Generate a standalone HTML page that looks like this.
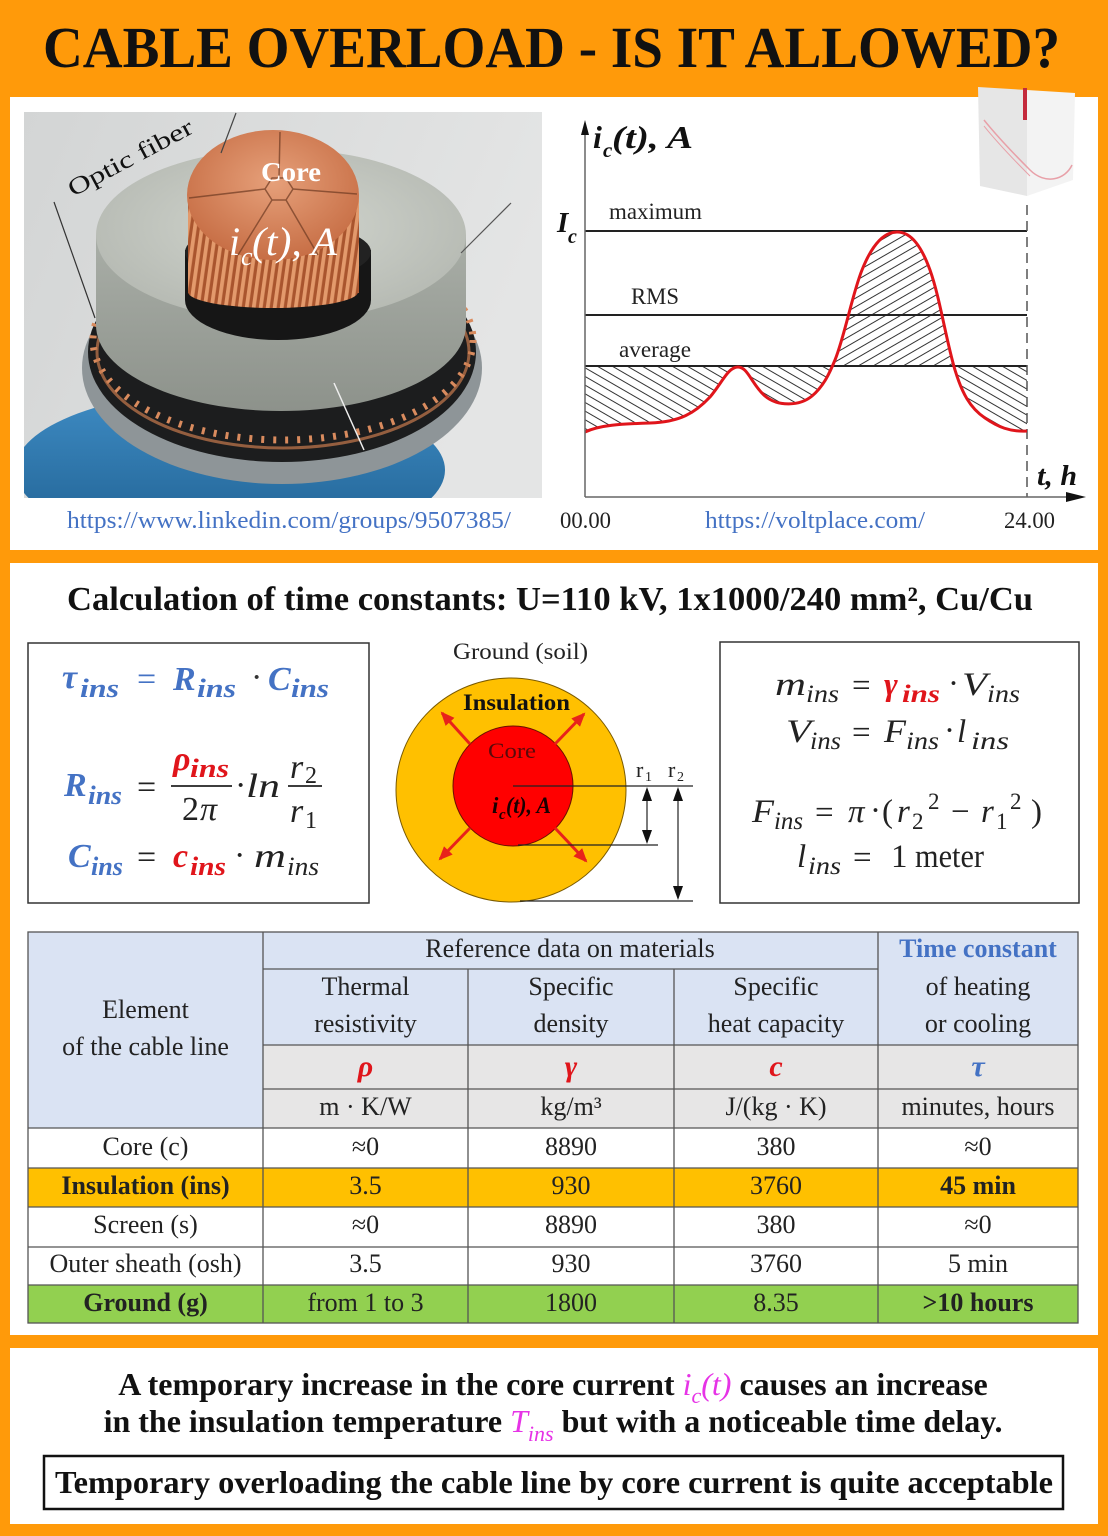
<!DOCTYPE html>
<html><head><meta charset="utf-8">
<style>html,body{margin:0;padding:0;background:#FF9A0A}svg{display:block}</style>
</head><body>
<svg width="1108" height="1536" viewBox="0 0 1108 1536" xmlns="http://www.w3.org/2000/svg" font-family="'Liberation Serif', 'DejaVu Serif', serif">
<defs>
  <pattern id="hb" patternUnits="userSpaceOnUse" width="10" height="7.5" patternTransform="rotate(30)"><line x1="-1" y1="3.5" x2="11" y2="3.5" stroke="#333" stroke-width="1"/></pattern>
  <pattern id="hf" patternUnits="userSpaceOnUse" width="10" height="7.5" patternTransform="rotate(-30)"><line x1="-1" y1="3.5" x2="11" y2="3.5" stroke="#333" stroke-width="1"/></pattern>
  <pattern id="str" patternUnits="userSpaceOnUse" width="7" height="30" patternTransform="skewX(-8)"><rect width="7" height="30" fill="#a9552e"/><rect x="1" width="3.8" height="30" fill="#e39a6c"/></pattern>
  <clipPath id="ph"><rect x="24" y="112" width="518" height="386"/></clipPath>
  <clipPath id="below"><rect x="585" y="366" width="443" height="100"/></clipPath>
  <clipPath id="above"><rect x="585" y="200" width="443" height="166"/></clipPath>
  <linearGradient id="bg" x1="0" y1="0" x2="1" y2="0.3"><stop offset="0" stop-color="#d3d5d5"/><stop offset="1" stop-color="#e4e5e5"/></linearGradient>
  <linearGradient id="blue" x1="0" y1="0" x2="0" y2="1"><stop offset="0" stop-color="#3f8cc4"/><stop offset="1" stop-color="#1e5f90"/></linearGradient>
  <radialGradient id="disk" cx="0.5" cy="0.45" r="0.6"><stop offset="0" stop-color="#d2d6cf"/><stop offset="1" stop-color="#b4b8b1"/></radialGradient>
  <linearGradient id="side" x1="0" y1="0" x2="0" y2="1"><stop offset="0" stop-color="#a9aea7"/><stop offset="1" stop-color="#8d928b"/></linearGradient>
  <radialGradient id="cu" cx="0.5" cy="0.4" r="0.6"><stop offset="0" stop-color="#e6a07a"/><stop offset="1" stop-color="#c76e45"/></radialGradient>
  <marker id="ar" markerWidth="14" markerHeight="12" refX="12" refY="6" orient="auto" markerUnits="userSpaceOnUse"><path d="M0,0 L14,6 L0,12 z" fill="#E8221B"/></marker>
</defs>

<!-- background + panels -->
<rect x="0" y="0" width="1108" height="1536" fill="#FF9A0A"/>
<rect x="10" y="97" width="1088" height="453" fill="#fff"/>
<rect x="10" y="563" width="1088" height="772" fill="#fff"/>
<rect x="10" y="1348" width="1088" height="176" fill="#fff"/>

<!-- title -->
<text x="43" y="67" font-size="58" font-weight="bold" fill="#111" textLength="1017" lengthAdjust="spacingAndGlyphs">CABLE OVERLOAD - IS IT ALLOWED?</text>

<!-- photo -->
<g clip-path="url(#ph)">
  <rect x="24" y="112" width="518" height="386" fill="url(#bg)"/>
  <ellipse cx="230" cy="470" rx="215" ry="80" fill="url(#blue)"/>
  <ellipse cx="282" cy="368" rx="200" ry="116" fill="#8e9598"/>
  <ellipse cx="282" cy="352" rx="194" ry="110" fill="#1c1d1e"/>
  <ellipse cx="283" cy="340" rx="190" ry="100" fill="none" stroke="#d98b5e" stroke-width="7" stroke-dasharray="3 9"/>
  <ellipse cx="283" cy="352" rx="186" ry="96" fill="none" stroke="#c87a4d" stroke-width="3" opacity="0.7"/>
  <path d="M96,235 L96,325 A185,86 0 0,0 466,325 L466,235 Z" fill="url(#side)"/>
  <ellipse cx="281" cy="235" rx="185" ry="86" fill="url(#disk)"/>
  <ellipse cx="278" cy="300" rx="93" ry="40" fill="#161616"/>
  <rect x="185" y="250" width="186" height="50" fill="#161616"/>
  <ellipse cx="278" cy="252" rx="93" ry="30" fill="#222"/>
  <rect x="188" y="195" width="171" height="98" fill="url(#str)"/>
  <ellipse cx="273" cy="292" rx="85" ry="16" fill="url(#str)"/>
  <ellipse cx="273" cy="195" rx="86" ry="65" fill="url(#cu)"/>
  <g stroke="#6e3a22" stroke-width="1.5" fill="none" opacity="0.7">
    <polygon points="272,178 286,178 293,189 286,200 272,200 265,189"/>
    <line x1="265" y1="189" x2="189" y2="198"/>
    <line x1="293" y1="189" x2="357" y2="194"/>
    <line x1="279" y1="178" x2="280" y2="132"/>
    <line x1="272" y1="200" x2="238" y2="255"/>
    <line x1="286" y1="200" x2="318" y2="255"/>
  </g>
  <line x1="54" y1="202" x2="95" y2="318" stroke="#333" stroke-width="1.2"/>
  <line x1="236" y1="113" x2="221" y2="153" stroke="#444" stroke-width="1.2"/>
  <line x1="511" y1="203" x2="461" y2="253" stroke="#555" stroke-width="1.2"/>
  <line x1="334" y1="383" x2="364" y2="450" stroke="#eee" stroke-width="1.5"/>
  <text transform="translate(73,197) rotate(-28)" font-size="24" fill="#111" textLength="138" lengthAdjust="spacingAndGlyphs">Optic fiber</text>
  <text x="261" y="181" font-size="27" font-weight="bold" fill="#fff" textLength="60" lengthAdjust="spacingAndGlyphs">Core</text>
  <text font-style="italic" fill="#fff" font-size="40"><tspan x="229" y="255">i</tspan><tspan x="241" y="265" font-size="26">c</tspan><tspan x="252" y="255" textLength="85" lengthAdjust="spacingAndGlyphs">(t), A</tspan></text>
</g>
<text x="67" y="528" font-size="24" fill="#4472C4" textLength="444" lengthAdjust="spacingAndGlyphs">https://www.linkedin.com/groups/9507385/</text>

<!-- book -->
<polygon points="978,87 1027,90 1027,196 980,186" fill="#e6e6e6"/>
<polygon points="1027,90 1075,93 1073,180 1027,196" fill="#f3f3f3"/>
<rect x="1023" y="88" width="4" height="32" fill="#c42a3c"/>
<path d="M984,120 C1000,140 1020,160 1030,170 C1045,185 1065,180 1072,165" fill="none" stroke="#e8a0a8" stroke-width="1.5"/>
<path d="M984,126 C1000,146 1020,166 1030,176" fill="none" stroke="#e8a0a8" stroke-width="1"/>

<!-- chart -->
<g>
  <path d="M585,432 C600,425 620,424 650,423 C680,422 695,413 710,397 C722,383 728,367 738,367 C748,367 752,385 765,396 C778,407 800,406 812,396 C824,386 830,372 835,360 C845,335 852,295 862,270 C872,245 884,232 897,232 C912,232 922,248 930,270 C940,298 946,340 955,370 C962,393 970,408 985,418 C998,427 1010,432 1027,431 L1027,366 L585,366 Z" fill="url(#hb)" clip-path="url(#below)"/>
  <path d="M585,432 C600,425 620,424 650,423 C680,422 695,413 710,397 C722,383 728,367 738,367 C748,367 752,385 765,396 C778,407 800,406 812,396 C824,386 830,372 835,360 C845,335 852,295 862,270 C872,245 884,232 897,232 C912,232 922,248 930,270 C940,298 946,340 955,370 C962,393 970,408 985,418 C998,427 1010,432 1027,431 L1027,366 L585,366 Z" fill="url(#hf)" clip-path="url(#above)"/>
  <line x1="585" y1="231" x2="1027" y2="231" stroke="#222" stroke-width="2"/>
  <line x1="585" y1="315" x2="1027" y2="315" stroke="#222" stroke-width="2"/>
  <line x1="585" y1="366" x2="1027" y2="366" stroke="#222" stroke-width="2"/>
  <line x1="1027" y1="205" x2="1027" y2="497" stroke="#555" stroke-width="1.5" stroke-dasharray="10 6"/>
  <path d="M585,432 C600,425 620,424 650,423 C680,422 695,413 710,397 C722,383 728,367 738,367 C748,367 752,385 765,396 C778,407 800,406 812,396 C824,386 830,372 835,360 C845,335 852,295 862,270 C872,245 884,232 897,232 C912,232 922,248 930,270 C940,298 946,340 955,370 C962,393 970,408 985,418 C998,427 1010,432 1027,431" fill="none" stroke="#E0151B" stroke-width="3"/>
  <line x1="585" y1="130" x2="585" y2="497" stroke="#666" stroke-width="1.5"/>
  <line x1="585" y1="497" x2="1070" y2="497" stroke="#666" stroke-width="1.5"/>
  <polygon points="585,120 581,135 589,135" fill="#111"/>
  <polygon points="1086,497 1066,492 1066,502" fill="#111"/>
  <text font-weight="bold" font-style="italic" font-size="32" fill="#111"><tspan x="593" y="148">i</tspan><tspan x="603" y="157" font-size="21">c</tspan><tspan x="612" y="148" textLength="81" lengthAdjust="spacingAndGlyphs">(t), A</tspan></text>
  <text font-weight="bold" font-style="italic" font-size="29" fill="#111"><tspan x="557" y="232">I</tspan><tspan x="568" y="243" font-size="20">c</tspan></text>
  <text x="609" y="219" font-size="23" fill="#222" textLength="93" lengthAdjust="spacingAndGlyphs">maximum</text>
  <text x="631" y="304" font-size="23" fill="#222" textLength="48" lengthAdjust="spacingAndGlyphs">RMS</text>
  <text x="619" y="357" font-size="23" fill="#222" textLength="72" lengthAdjust="spacingAndGlyphs">average</text>
  <text x="1037" y="485" font-size="29" font-weight="bold" font-style="italic" fill="#111" textLength="40" lengthAdjust="spacingAndGlyphs">t, h</text>
  <text x="560" y="528" font-size="23" fill="#222" textLength="51" lengthAdjust="spacingAndGlyphs">00.00</text>
  <text x="705" y="528" font-size="24" fill="#4472C4" textLength="220" lengthAdjust="spacingAndGlyphs">https://voltplace.com/</text>
  <text x="1004" y="528" font-size="23" fill="#222" textLength="51" lengthAdjust="spacingAndGlyphs">24.00</text>
</g>

<!-- panel 2 header -->
<text x="67" y="610" font-size="34" font-weight="bold" fill="#111" textLength="966" lengthAdjust="spacingAndGlyphs">Calculation of time constants: U=110 kV, 1x1000/240 mm², Cu/Cu</text>

<!-- left formula box -->
<rect x="28" y="643" width="341" height="260" fill="#fff" stroke="#333" stroke-width="1.5"/>
<text font-style="italic" font-weight="bold" fill="#4472C4" font-size="34">
  <tspan x="62" y="688">τ</tspan><tspan x="80" y="697" font-size="26" textLength="39" lengthAdjust="spacingAndGlyphs">ins</tspan>
  <tspan x="137" y="690" font-style="normal" font-weight="normal">=</tspan>
  <tspan x="173" y="690">R</tspan><tspan x="197" y="697" font-size="26" textLength="39" lengthAdjust="spacingAndGlyphs">ins</tspan>
  <tspan x="251" y="688" font-style="normal" font-weight="normal" fill="#333">·</tspan>
  <tspan x="268" y="690">C</tspan><tspan x="291" y="697" font-size="26" textLength="38" lengthAdjust="spacingAndGlyphs">ins</tspan>
</text>
<text font-style="italic" font-size="34" fill="#222">
  <tspan x="64" y="796" font-weight="bold" fill="#4472C4">R</tspan><tspan x="88" y="804" font-size="26" font-weight="bold" fill="#4472C4" textLength="34" lengthAdjust="spacingAndGlyphs">ins</tspan>
  <tspan x="137" y="798" font-style="normal">=</tspan>
  <tspan x="173" y="770" font-weight="bold" fill="#E0151B">ρ</tspan><tspan x="190" y="777" font-size="26" font-weight="bold" fill="#E0151B" textLength="39" lengthAdjust="spacingAndGlyphs">ins</tspan>
  <tspan x="182" y="820" font-style="normal">2</tspan><tspan x="200" y="820">π</tspan>
  <tspan x="235" y="796" font-style="normal">·</tspan>
  <tspan x="246" y="797" textLength="34" lengthAdjust="spacingAndGlyphs">ln</tspan>
  <tspan x="290" y="778">r</tspan><tspan x="305" y="783" font-size="24" font-style="normal">2</tspan>
  <tspan x="290" y="822">r</tspan><tspan x="305" y="828" font-size="24" font-style="normal">1</tspan>
</text>
<line x1="171" y1="786" x2="232" y2="786" stroke="#222" stroke-width="1.8"/>
<line x1="288" y1="786" x2="322" y2="786" stroke="#222" stroke-width="1.8"/>
<text font-style="italic" font-size="34" fill="#222">
  <tspan x="68" y="867" font-weight="bold" fill="#4472C4">C</tspan><tspan x="91" y="875" font-size="26" font-weight="bold" fill="#4472C4" textLength="32" lengthAdjust="spacingAndGlyphs">ins</tspan>
  <tspan x="137" y="868" font-style="normal">=</tspan>
  <tspan x="173" y="867" font-weight="bold" fill="#E0151B">c</tspan><tspan x="190" y="875" font-size="26" font-weight="bold" fill="#E0151B" textLength="36" lengthAdjust="spacingAndGlyphs">ins</tspan>
  <tspan x="234" y="866" font-style="normal">·</tspan>
  <tspan x="254" y="867" textLength="32" lengthAdjust="spacingAndGlyphs">m</tspan><tspan x="287" y="875" font-size="26" textLength="32" lengthAdjust="spacingAndGlyphs">ins</tspan>
</text>

<!-- diagram -->
<text x="453" y="659" font-size="23" fill="#222" textLength="135" lengthAdjust="spacingAndGlyphs">Ground (soil)</text>
<ellipse cx="511" cy="790" rx="115" ry="112" fill="#FFC000" stroke="#7a5a00" stroke-width="1"/>
<circle cx="513" cy="786" r="60" fill="#FF0000" stroke="#6a1000" stroke-width="1"/>
<text x="463" y="710" font-size="23" font-weight="bold" fill="#111" textLength="107" lengthAdjust="spacingAndGlyphs">Insulation</text>
<text x="488" y="758" font-size="22" fill="#5a0a0a" textLength="48" lengthAdjust="spacingAndGlyphs">Core</text>
<text font-weight="bold" font-style="italic" font-size="23" fill="#1a0000"><tspan x="492" y="813">i</tspan><tspan x="499" y="819" font-size="15">c</tspan><tspan x="506" y="813" textLength="45" lengthAdjust="spacingAndGlyphs">(t), A</tspan></text>
<g stroke="#E8221B" stroke-width="3" marker-end="url(#ar)">
  <line x1="470" y1="744" x2="442" y2="713"/>
  <line x1="555" y1="744" x2="584" y2="714"/>
  <line x1="470" y1="828" x2="440" y2="859"/>
  <line x1="555" y1="828" x2="586" y2="861"/>
</g>
<g stroke="#222" stroke-width="1.2">
  <line x1="513" y1="786" x2="693" y2="786"/>
  <line x1="518" y1="845" x2="658" y2="845"/>
  <line x1="520" y1="901" x2="693" y2="901"/>
  <line x1="647" y1="796" x2="647" y2="835"/>
  <line x1="678" y1="796" x2="678" y2="891"/>
</g>
<g fill="#111">
  <polygon points="647,787 642,801 652,801"/>
  <polygon points="647,844 642,830 652,830"/>
  <polygon points="678,787 673,801 683,801"/>
  <polygon points="678,900 673,886 683,886"/>
</g>
<text font-size="22" fill="#222"><tspan x="636" y="777">r</tspan><tspan x="645" y="781" font-size="14">1</tspan><tspan x="668" y="777">r</tspan><tspan x="677" y="781" font-size="14">2</tspan></text>

<!-- right formula box -->
<rect x="720" y="642" width="359" height="261" fill="#fff" stroke="#333" stroke-width="1.5"/>
<text font-style="italic" font-size="33" fill="#222">
  <tspan x="775" y="695" textLength="31" lengthAdjust="spacingAndGlyphs">m</tspan><tspan x="806" y="702" font-size="25" textLength="33" lengthAdjust="spacingAndGlyphs">ins</tspan>
  <tspan x="852" y="696" font-style="normal">=</tspan>
  <tspan x="884" y="695" font-weight="bold" fill="#E0151B">γ</tspan><tspan x="902" y="702" font-size="25" font-weight="bold" fill="#E0151B" textLength="38" lengthAdjust="spacingAndGlyphs">ins</tspan>
  <tspan x="948" y="694" font-style="normal">·</tspan>
  <tspan x="962" y="695" textLength="25" lengthAdjust="spacingAndGlyphs">V</tspan><tspan x="987" y="702" font-size="25" textLength="33" lengthAdjust="spacingAndGlyphs">ins</tspan>
</text>
<text font-style="italic" font-size="33" fill="#222">
  <tspan x="786" y="742" textLength="25" lengthAdjust="spacingAndGlyphs">V</tspan><tspan x="810" y="749" font-size="25" textLength="31" lengthAdjust="spacingAndGlyphs">ins</tspan>
  <tspan x="852" y="743" font-style="normal">=</tspan>
  <tspan x="884" y="742" textLength="22" lengthAdjust="spacingAndGlyphs">F</tspan><tspan x="906" y="749" font-size="25" textLength="33" lengthAdjust="spacingAndGlyphs">ins</tspan>
  <tspan x="944" y="741" font-style="normal">·</tspan>
  <tspan x="957" y="742">l</tspan><tspan x="971" y="749" font-size="25" textLength="38" lengthAdjust="spacingAndGlyphs">ins</tspan>
</text>
<text font-style="italic" font-size="33" fill="#222">
  <tspan x="752" y="822" textLength="22" lengthAdjust="spacingAndGlyphs">F</tspan><tspan x="774" y="829" font-size="25" textLength="29" lengthAdjust="spacingAndGlyphs">ins</tspan>
  <tspan x="815" y="823" font-style="normal">=</tspan>
  <tspan x="848" y="822">π</tspan>
  <tspan x="870" y="821" font-style="normal">·</tspan>
  <tspan x="882" y="822" font-style="normal">(</tspan>
  <tspan x="897" y="822">r</tspan><tspan x="912" y="829" font-size="23" font-style="normal">2</tspan><tspan x="928" y="809" font-size="23" font-style="normal">2</tspan>
  <tspan x="951" y="822" font-style="normal">−</tspan>
  <tspan x="981" y="822">r</tspan><tspan x="996" y="829" font-size="23" font-style="normal">1</tspan><tspan x="1010" y="809" font-size="23" font-style="normal">2</tspan>
  <tspan x="1031" y="822" font-style="normal">)</tspan>
</text>
<text font-style="italic" font-size="33" fill="#222">
  <tspan x="797" y="867">l</tspan><tspan x="808" y="874" font-size="25" textLength="33" lengthAdjust="spacingAndGlyphs">ins</tspan>
  <tspan x="853" y="868" font-style="normal">=</tspan>
  <tspan x="891" y="867" font-style="normal">1</tspan>
  <tspan x="915" y="867" font-style="normal" textLength="69" lengthAdjust="spacingAndGlyphs">meter</tspan>
</text>

<!-- table -->
<g>
  <rect x="28" y="932" width="1050" height="391" fill="#fff"/>
  <rect x="28" y="932" width="235" height="196" fill="#DAE3F3"/>
  <rect x="263" y="932" width="815" height="113" fill="#DAE3F3"/>
  <rect x="263" y="1045" width="815" height="83" fill="#E7E6E6"/>
  <rect x="28" y="1168" width="1050" height="39" fill="#FFC000"/>
  <rect x="28" y="1285" width="1050" height="38" fill="#92D050"/>
  <g stroke="#555" stroke-width="1.3" fill="none">
    <rect x="28" y="932" width="1050" height="391"/>
    <line x1="263" y1="969" x2="878" y2="969"/>
    <line x1="263" y1="1045" x2="1078" y2="1045"/>
    <line x1="263" y1="1089" x2="1078" y2="1089"/>
    <line x1="28" y1="1128" x2="1078" y2="1128"/>
    <line x1="28" y1="1168" x2="1078" y2="1168"/>
    <line x1="28" y1="1207" x2="1078" y2="1207"/>
    <line x1="28" y1="1247" x2="1078" y2="1247"/>
    <line x1="28" y1="1285" x2="1078" y2="1285"/>
    <line x1="263" y1="932" x2="263" y2="1323"/>
    <line x1="468" y1="969" x2="468" y2="1323"/>
    <line x1="674" y1="969" x2="674" y2="1323"/>
    <line x1="878" y1="932" x2="878" y2="1323"/>
  </g>
  <g font-size="26" fill="#222" text-anchor="middle">
    <text x="145.5" y="1018">Element</text>
    <text x="145.5" y="1055">of the cable line</text>
    <text x="570" y="957">Reference data on materials</text>
    <text x="365.5" y="995">Thermal</text>
    <text x="365.5" y="1032">resistivity</text>
    <text x="571" y="995">Specific</text>
    <text x="571" y="1032">density</text>
    <text x="776" y="995">Specific</text>
    <text x="776" y="1032">heat capacity</text>
    <text x="978" y="957" font-weight="bold" fill="#4472C4">Time constant</text>
    <text x="978" y="995">of heating</text>
    <text x="978" y="1032">or cooling</text>
    <text x="365.5" y="1076" font-weight="bold" font-style="italic" fill="#E0151B" font-size="30">ρ</text>
    <text x="571" y="1076" font-weight="bold" font-style="italic" fill="#E0151B" font-size="30">γ</text>
    <text x="776" y="1076" font-weight="bold" font-style="italic" fill="#E0151B" font-size="30">c</text>
    <text x="978" y="1076" font-weight="bold" font-style="italic" fill="#4472C4" font-size="30">τ</text>
    <text x="365.5" y="1115">m · K/W</text>
    <text x="571" y="1115">kg/m³</text>
    <text x="776" y="1115">J/(kg · K)</text>
    <text x="978" y="1115">minutes, hours</text>

    <text x="145.5" y="1155">Core (c)</text>
    <text x="365.5" y="1155">≈0</text><text x="571" y="1155">8890</text><text x="776" y="1155">380</text><text x="978" y="1155">≈0</text>
    <text x="145.5" y="1194" font-weight="bold">Insulation (ins)</text>
    <text x="365.5" y="1194">3.5</text><text x="571" y="1194">930</text><text x="776" y="1194">3760</text><text x="978" y="1194" font-weight="bold">45 min</text>
    <text x="145.5" y="1233">Screen (s)</text>
    <text x="365.5" y="1233">≈0</text><text x="571" y="1233">8890</text><text x="776" y="1233">380</text><text x="978" y="1233">≈0</text>
    <text x="145.5" y="1272">Outer sheath (osh)</text>
    <text x="365.5" y="1272">3.5</text><text x="571" y="1272">930</text><text x="776" y="1272">3760</text><text x="978" y="1272">5 min</text>
    <text x="145.5" y="1311" font-weight="bold">Ground (g)</text>
    <text x="365.5" y="1311">from 1 to 3</text><text x="571" y="1311">1800</text><text x="776" y="1311">8.35</text><text x="978" y="1311" font-weight="bold">&gt;10 hours</text>
  </g>
</g>

<!-- panel 3 -->
<text x="553" y="1395" text-anchor="middle" font-size="32" font-weight="bold" fill="#111">A temporary increase in the core current <tspan fill="#E633E6" font-style="italic" font-weight="normal">i</tspan><tspan fill="#E633E6" font-style="italic" font-weight="normal" font-size="22" dy="8">c</tspan><tspan fill="#E633E6" font-style="italic" font-weight="normal" dy="-8">(t)</tspan> causes an increase</text>
<text x="553" y="1432" text-anchor="middle" font-size="32" font-weight="bold" fill="#111">in the insulation temperature <tspan fill="#E633E6" font-style="italic" font-weight="normal">T</tspan><tspan fill="#E633E6" font-style="italic" font-weight="normal" font-size="22" dy="9">ins</tspan><tspan dy="-9"> but with a noticeable time delay.</tspan></text>
<rect x="44" y="1456" width="1019" height="53" fill="#fff" stroke="#111" stroke-width="2.5"/>
<text x="55" y="1493" font-size="32" font-weight="bold" fill="#111" textLength="998" lengthAdjust="spacingAndGlyphs">Temporary overloading the cable line by core current is quite acceptable</text>
</svg>
</body></html>
